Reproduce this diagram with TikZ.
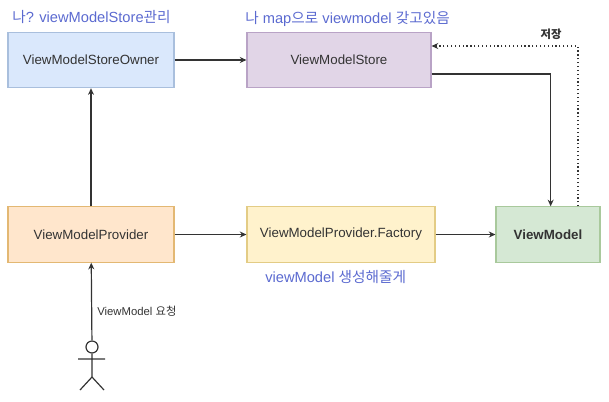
\documentclass[tikz,border=0pt]{standalone}
\usepackage{fontspec}
\setmainfont{Liberation Sans}
\newfontfamily\kr{Noto Sans CJK KR}
\usepackage{tikz}
\usetikzlibrary{arrows.meta}

\definecolor{ink}{HTML}{333333}
\definecolor{note}{HTML}{5B6AD0}
\definecolor{blueFill}{HTML}{DAE8FC}\definecolor{blueLine}{HTML}{A9BFDD}
\definecolor{lilacFill}{HTML}{E1D5E7}\definecolor{lilacLine}{HTML}{B9A3C6}
\definecolor{peachFill}{HTML}{FFE6CC}\definecolor{peachLine}{HTML}{E3B873}
\definecolor{sandFill}{HTML}{FFF2CC}\definecolor{sandLine}{HTML}{E3CC85}
\definecolor{mintFill}{HTML}{D5E8D4}\definecolor{mintLine}{HTML}{A9C99C}

\tikzset{
  box/.style={draw, line width=0.8pt, minimum height=41.5pt, inner sep=0pt,
    font=\fontsize{10}{12}\selectfont, text=ink},
  notetext/.style={anchor=west, inner sep=0pt, text=note,
    font=\fontsize{11}{13}\selectfont},
  small/.style={inner sep=0pt, text=ink, font=\fontsize{8.5}{10}\selectfont},
  link/.style={draw=ink, line width=0.9pt, ->},
  >={Stealth[length=5pt,width=4.5pt]}
}

\begin{document}
\begin{tikzpicture}[x=0.75pt, y=-0.75pt]
  \useasboundingbox (0,0) rectangle (609,401);

  \node[box, fill=blueFill, draw=blueLine, minimum width=124.5pt] (owner) at (91, 60) {ViewModelStoreOwner};
  \node[box, fill=lilacFill, draw=lilacLine, minimum width=138pt] (store) at (339, 60) {ViewModelStore};
  \node[box, fill=peachFill, draw=peachLine, minimum width=124.5pt] (provider) at (91, 234.5) {ViewModelProvider};
  \node[box, fill=sandFill, draw=sandLine, minimum width=141pt] (factory) at (341, 234.5) {ViewModelProvider.Factory};
  \node[box, fill=mintFill, draw=mintLine, minimum width=78pt, font=\fontsize{10}{12}\selectfont\bfseries] (vm) at (548, 234.5) {ViewModel};

  % notes
  \node[notetext] (ownerNote) at (12, 17) {{\kr 나}? viewModelStore{\kr 관리}};
  \node[notetext] (storeNote) at (245, 19) {{\kr 나} map{\kr 으로} viewmodel {\kr 갖고있음}};
  \node[notetext] (factoryNote) at (265, 277) {viewModel {\kr 생성해줄게}};
  \node[small, font=\fontsize{8.5}{10}\selectfont\kr\bfseries] (save) at (551, 34) {저장};
  \node[small, anchor=west] (request) at (97, 311) {ViewModel {\kr 요청}};

  % user
  \node[draw=ink, line width=0.9pt, circle, minimum size=9pt, inner sep=0pt] (head) at (92, 347) {};
  \draw[ink, line width=0.9pt] (head.south) -- (92, 377) (78, 359) -- (105, 359)
    (80, 390) -- (92, 377) -- (104, 390);

  \draw[link] (owner) -- (store);
  \draw[link] (provider) -- (owner);
  \draw[link] (provider) -- (factory);
  \draw[link] (factory) -- (vm);
  \draw[link] (head) -- (provider);
  \draw[link] ([yshift=-10.5pt]store.east) -| ([xshift=2pt]vm.north);
  \draw[link, dotted] ([xshift=22.5pt]vm.north) |- ([yshift=10.5pt]store.east);
\end{tikzpicture}
\end{document}
